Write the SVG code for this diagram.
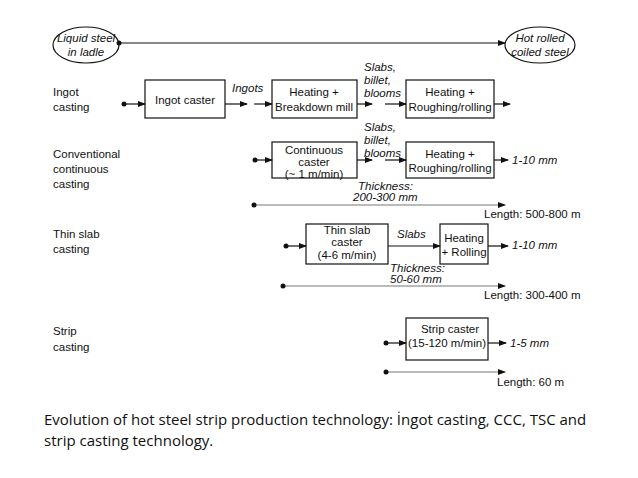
<svg xmlns="http://www.w3.org/2000/svg" width="638" height="478" viewBox="0 0 638 478">
<style>
text{font-family:"Liberation Sans",Arial,sans-serif;font-size:11.5px;fill:#111}
.i{font-style:italic}
.c{text-anchor:middle}
.b{fill:#fff;stroke:#111;stroke-width:1.2}
.l{stroke:#111;stroke-width:1.2;fill:none}
.g{stroke:#777;stroke-width:1;fill:none}
.cap{font-family:"Open Sans","Liberation Sans",sans-serif;font-size:15px}
</style>
<defs>
<marker id="a" markerWidth="8" markerHeight="6" refX="7" refY="3" orient="auto" markerUnits="userSpaceOnUse"><path d="M0,0L8,3L0,6z" fill="#111"/></marker>
<marker id="d" markerWidth="6" markerHeight="6" refX="3" refY="3" markerUnits="userSpaceOnUse"><circle cx="3" cy="3" r="2.5" fill="#111"/></marker>
</defs>
<rect width="638" height="478" fill="#fff"/>
<g id="ladle"><ellipse class="b" cx="86" cy="45" rx="33" ry="18"/><text class="i c" x="86" y="42">Liquid steel</text><text class="i c" x="86" y="56">in ladle</text></g>
<g id="coiled"><ellipse class="b" cx="540" cy="45" rx="35" ry="18"/><text class="i c" x="540" y="42">Hot rolled</text><text class="i c" x="540" y="56">coiled steel</text></g>
<g id="labels">
<text x="53" y="96">Ingot</text><text x="53" y="111">casting</text>
<text x="53" y="158">Conventional</text><text x="53" y="173">continuous</text><text x="53" y="188">casting</text>
<text x="53" y="238">Thin slab</text><text x="53" y="253">casting</text>
<text x="53" y="335">Strip</text><text x="53" y="351">casting</text>
</g>
<g id="ingot-caster"><rect class="b" x="145" y="80" width="80" height="38"/><text class="c" x="185" y="104">Ingot caster</text></g>
<g id="breakdown"><rect class="b" x="272" y="80" width="85" height="38"/><text class="c" x="314" y="96">Heating +</text><text class="c" x="314" y="111">Breakdown mill</text></g>
<g id="rough1"><rect class="b" x="406" y="80" width="88" height="38"/><text class="c" x="450" y="96">Heating +</text><text class="c" x="450" y="111">Roughing/rolling</text></g>
<g id="cc"><rect class="b" x="272" y="142" width="85" height="36"/><text class="c" x="314" y="154">Continuous</text><text class="c" x="314" y="166">caster</text><text class="c" x="314" y="178">(~ 1 m/min)</text></g>
<g id="rough2"><rect class="b" x="406" y="142" width="88" height="36"/><text class="c" x="450" y="158">Heating +</text><text class="c" x="450" y="172">Roughing/rolling</text></g>
<g id="tsc"><rect class="b" x="306" y="224" width="82" height="40"/><text class="c" x="347" y="234">Thin slab</text><text class="c" x="347" y="246">caster</text><text class="c" x="347" y="259">(4-6 m/min)</text></g>
<g id="heat3"><rect class="b" x="440" y="224" width="48" height="40"/><text class="c" x="464" y="242">Heating</text><text class="c" x="464" y="256">+ Rolling</text></g>
<g id="strip"><rect class="b" x="406" y="318" width="82" height="42"/><text class="c" x="450" y="333">Strip caster</text><text class="c" x="447" y="347">(15-120 m/min)</text></g>
<g id="notes">
<text class="i" x="232" y="92">Ingots</text>
<text class="i" x="364" y="71">Slabs,</text><text class="i" x="364" y="84">billet,</text><text class="i" x="364" y="97">blooms</text>
<text class="i" x="364" y="131">Slabs,</text><text class="i" x="364" y="144">billet,</text><text class="i" x="364" y="157">blooms</text>
<text class="i" x="512" y="164">1-10 mm</text>
<text class="i" x="358" y="190">Thickness:</text><text class="i" x="353" y="201">200-300 mm</text>
<text x="484" y="218">Length: 500-800 m</text>
<text class="i" x="397" y="238">Slabs</text>
<text class="i" x="512" y="249">1-10 mm</text>
<text class="i" x="390" y="272">Thickness:</text><text class="i" x="390" y="283">50-60 mm</text>
<text x="484" y="299">Length: 300-400 m</text>
<text class="i" x="510" y="347">1-5 mm</text>
<text x="497" y="386">Length: 60 m</text>
</g>
<g id="connectors">
<path class="l" d="M119,43H505" marker-start="url(#d)" marker-end="url(#a)"/>
<path class="l" d="M124,104H145" marker-start="url(#d)" marker-end="url(#a)"/>
<path class="l" d="M225,104H247" marker-end="url(#a)"/><path class="l" d="M254,104H272" marker-end="url(#a)"/>
<path class="l" d="M357,104H372" marker-end="url(#a)"/><path class="l" d="M385,104H406" marker-end="url(#a)"/>
<path class="l" d="M494,104H510" marker-end="url(#a)"/>
<path class="l" d="M255,160H272" marker-start="url(#d)" marker-end="url(#a)"/>
<path class="l" d="M357,160H372" marker-end="url(#a)"/><path class="l" d="M385,160H406" marker-end="url(#a)"/>
<path class="l" d="M494,160H508" marker-end="url(#a)"/>
<path class="g" d="M254,205H505" marker-start="url(#d)" marker-end="url(#a)"/>
<path class="l" d="M286,246H306" marker-start="url(#d)" marker-end="url(#a)"/>
<path class="l" d="M388,246H440" marker-end="url(#a)"/>
<path class="l" d="M488,246H508" marker-end="url(#a)"/>
<path class="g" d="M283,286H505" marker-start="url(#d)" marker-end="url(#a)"/>
<path class="l" d="M386,343H406" marker-start="url(#d)" marker-end="url(#a)"/>
<path class="l" d="M488,343H506" marker-end="url(#a)"/>
<path class="g" d="M386,372H505" marker-start="url(#d)" marker-end="url(#a)"/>
</g>
<g id="caption">
<text class="cap" x="44" y="425">Evolution of hot steel strip production technology: İngot casting, CCC, TSC and</text>
<text class="cap" x="44" y="446">strip casting technology.</text>
</g>
</svg>
